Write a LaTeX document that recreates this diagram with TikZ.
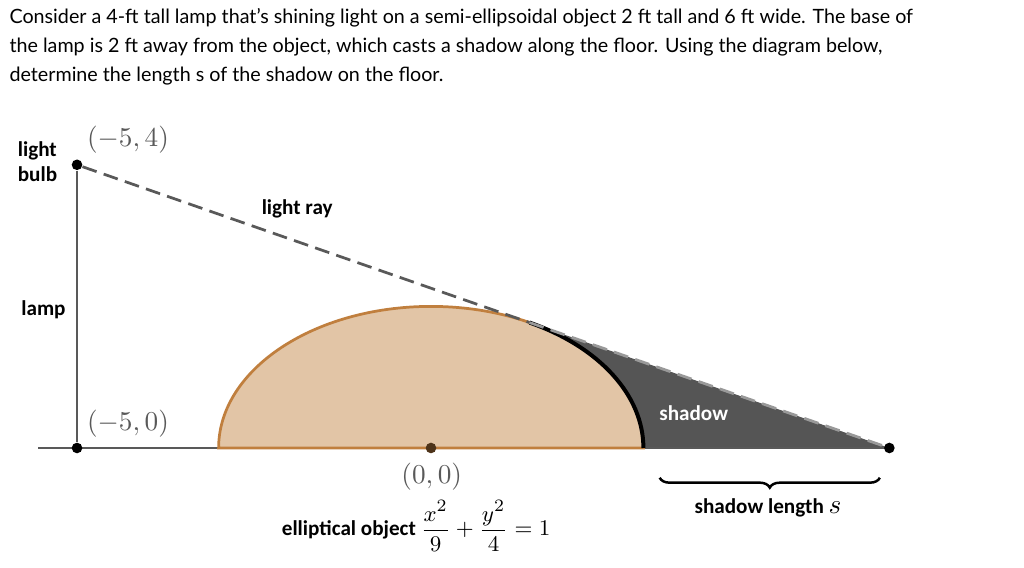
\documentclass[tikz,border=0pt]{standalone}
\usepackage{fontspec}
\setmainfont{Carlito}
\newfontfamily\headfont{Lato}
\usetikzlibrary{positioning,decorations.pathreplacing}
\definecolor{tanfill}{HTML}{E2C5A6}
\definecolor{rim}{HTML}{C07F3E}
\definecolor{shadowgray}{HTML}{555555}
\definecolor{coordtxt}{HTML}{595959}
\tikzset{
  dot/.style={circle, fill=black, inner sep=0pt, minimum size=1.5mm},
  tag/.style={font=\fontsize{8.5}{10}\selectfont\bfseries, align=left},
  pt/.style={text=coordtxt, font=\fontsize{10.5}{12}\selectfont},
  ray/.style={dash pattern=on 6pt off 3pt, line width=1.1pt},
}
\begin{document}
\begin{tikzpicture}
    \useasboundingbox (-6.088,-1.695) rectangle (8.376,6.328);
    % question text
    \node (head) [anchor=north west, align=left, inner sep=0pt, font=\headfont\fontsize{7.92}{11.7}\selectfont] at (-5.96,6.22)
      {Consider a 4-ft tall lamp that’s shining light on a semi-ellipsoidal object 2 ft tall and 6 ft wide. The base of\\
       the lamp is 2 ft away from the object, which casts a shadow along the floor. Using the diagram below,\\
       determine the length s of the shadow on the floor.};
    \coordinate (tang) at (1.3902,1.7723);
    \coordinate (tip)  at (6.474,0);
    \coordinate (floor) at (-5.55,0);
    % object and shadow
    \fill[tanfill] (-3,0) arc[start angle=180, end angle=0, x radius=3, y radius=2] -- cycle;
    \fill[shadowgray] (tang) -- (tip) -- (3,0) arc[start angle=0, end angle=62.39, x radius=3, y radius=2] -- cycle;
    \draw[coordtxt, line width=0.9pt] (floor) -- (-3,0);
    \draw[coordtxt, line width=0.9pt] (3,0) -- (tip);
    \draw[rim, line width=1.1pt] (3,0) arc[start angle=0, end angle=180, x radius=3, y radius=2] -- cycle;
    \draw[black, line width=1.6pt] (3,0) arc[start angle=0, end angle=62.39, x radius=3, y radius=2];
    \node (bulb) [dot] at (-5,4) {};
    \node (base) [dot] at (-5,0) {};
    \node (orig) [dot, fill=black!60!rim] at (0,0) {};
    \node (end)  [dot] at (tip) {};
    \draw[coordtxt, line width=1pt] (base) -- (bulb);
    \draw[ray, coordtxt] (bulb) -- (tang);
    \draw[ray, black!40] (tang) -- (end);
    % labels
    \node (bulbxy) [pt] at (-4.28,4.35) {$(-5,4)$};
    \node (bulbtag) [tag, anchor=west] at (-5.96,4.04) {light\\bulb};
    \node (raytag) [tag] at (-1.89,3.38) {light ray};
    \node (lamptag) [tag, anchor=west] at (-5.91,1.95) {lamp};
    \node (basexy) [pt] at (-4.28,0.34) {$(-5,0)$};
    \node (origxy) [pt] at (0.01,-0.40) {$(0,0)$};
    \node (objtag) [tag] at (-0.21,-1.10) {elliptical object \mdseries\fontsize{9.5}{12}\selectfont$\displaystyle\frac{x^2}{9}+\frac{y^2}{4}=1$};
    \node (shadtag) [tag, text=white] at (3.71,0.49) {shadow};
    \draw[line width=1pt, decorate, decoration={brace, amplitude=0.14cm}] (6.34,-0.42) -- (3.23,-0.42);
    \node (lentag) [tag] at (4.76,-0.85) {shadow length \fontsize{11}{13}\selectfont$s$};
\end{tikzpicture}
\end{document}
